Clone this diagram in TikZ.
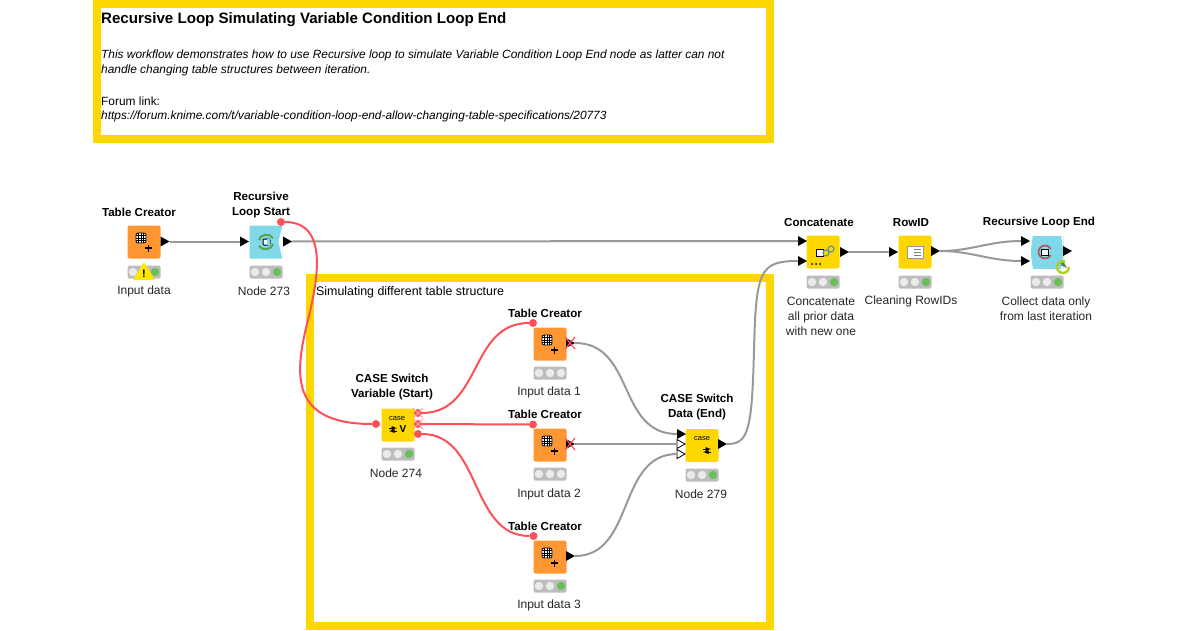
\documentclass[tikz,border=0pt]{standalone}
\usepackage{fontspec}
\setmainfont{Liberation Sans}
\usetikzlibrary{positioning, arrows, calc, shapes.geometric, shapes.misc}
\definecolor{kyellow}{HTML}{FFD700}
\definecolor{korange}{HTML}{FF9632}
\definecolor{kcyan}{HTML}{80D8E8}
\definecolor{kgrey}{HTML}{999999}
\definecolor{kred}{HTML}{FF4F58}
\definecolor{kgreen}{HTML}{6BBF59}
\begin{document}
\begin{tikzpicture}[x=1pt,y=-1pt]
		\tikzstyle{knode} = [rectangle, rounded corners=2, minimum size=33, inner sep=0, outer sep=0]
		\tikzstyle{creator} = [knode, fill=korange, path picture={
			\begin{scope}[shift={(path picture bounding box.center)}]
			\draw [line width=0.8, fill=white] (-8,-9) rectangle (2,1);
			\draw [line width=0.6] (-8,-6.5) -- (2,-6.5) (-8,-4) -- (2,-4) (-8,-1.5) -- (2,-1.5);
			\draw [line width=0.6] (-5.5,-9) -- (-5.5,1) (-3,-9) -- (-3,1) (-0.5,-9) -- (-0.5,1);
			\draw [line width=1.8] (1,6) -- (8,6) (4.5,2.5) -- (4.5,9.5);
			\end{scope}}]
		\tikzstyle{switchbox} = [knode, fill=kyellow]
		\tikzstyle{loopstart} = [knode, rounded corners=1, fill=kcyan, path picture={
			\begin{scope}[shift={(path picture bounding box.center)}]
			\fill [white] (17,-17) -- (16.5,-17) -- (12.5,0) -- (16.5,17) -- (17,17) -- cycle;
			\draw [line width=2, color=kgreen!85!black] (-7,-2) .. controls (-6,-8) and (4,-9) .. (7,-4);
			\draw [line width=2, color=kgreen!85!black] (7,2) .. controls (6,8) and (-4,9) .. (-7,4);
			\draw [line width=1, fill=white] (-3,-3) rectangle (4,3);
			\fill (1,-3.5) rectangle (4,3.5);
			\end{scope}}]
		\tikzstyle{loopend} = [knode, rounded corners=0, fill=kcyan, path picture={
			\begin{scope}[shift={(path picture bounding box.center)}]
			\fill [white] (-17,-18) -- (-14,-18) -- (-16.5,0) -- (-14,18) -- (-17,18) -- cycle;
			\fill [white] (17,-18) -- (14,-18) -- (16.5,0) -- (14,18) -- (17,18) -- cycle;
			\draw [line width=1.5, color=red!60!black!70] (-2,0) circle (6.5);
			\draw [line width=1, fill=white] (-6,-3) rectangle (1,3);
			\fill (2,-3) rectangle (8,3);
			\end{scope}}]
		\tikzstyle{status_off} = [rectangle, fill=black!26, rounded corners=1.5, minimum width=33, minimum height=13, inner sep=0, path picture={
			\begin{scope}[shift={(path picture bounding box.center)}]
			\fill [black!8] (-11,0) circle (4.2) (0,0) circle (4.2) (11,0) circle (4.2);
			\end{scope}}]
		\tikzstyle{status_on} = [status_off, path picture={
			\begin{scope}[shift={(path picture bounding box.center)}]
			\fill [black!8] (-11,0) circle (4.2) (0,0) circle (4.2);
			\fill [kgreen] (11,0) circle (4.2);
			\end{scope}}]
		\tikzstyle{port} = [isosceles triangle, isosceles triangle stretches, minimum width=10, minimum height=9, inner sep=0, outer sep=0, anchor=west, fill=black]
		\tikzstyle{port_open} = [port, fill=white, draw=black, line width=0.8, minimum width=9, minimum height=8]
		\tikzstyle{varport} = [shape=circle, minimum size=8, inner sep=0, outer sep=0, fill=kred]
		\tikzstyle{crossmark} = [cross out, draw=kred!55, line width=1, minimum width=10, minimum height=10, inner sep=0, outer sep=0]
		\tikzstyle{crossred} = [crossmark, draw=kred, line width=1.2, minimum height=12]
		\tikzstyle{title} = [font=\fontsize{11.6}{15}\selectfont\bfseries, align=center, inner sep=0, yshift=-0.8pt]
		\tikzstyle{caption} = [font=\fontsize{12}{15}\selectfont, text=black!85, align=center, inner sep=0, yshift=-0.8pt]
		\tikzstyle{note} = [font=\fontsize{11.9}{15}\selectfont, anchor=west, inner sep=0, yshift=-0.8pt]
		\tikzstyle{casetext} = [font=\fontsize{7.5}{8}\selectfont, inner sep=0]
		\tikzstyle{greyline} = [draw=kgrey, line width=2]
		\tikzstyle{redline} = [draw=kred, line width=2]
		\tikzstyle{noteframe} = [draw=kyellow, line width=8]
		\useasboundingbox (0,0) rectangle (1200,630);
		% annotations
		\draw [noteframe] (97,4) rectangle (770,139);
		\draw [noteframe] (310,278) rectangle (770,626);
		\node [note, font=\fontsize{15.1}{18}\selectfont\bfseries] (v_head) at (101,18.5) {Recursive Loop Simulating Variable Condition Loop End};
		\node [note] (v_text1) at (101,54.5) {\itshape This workflow demonstrates how to use Recursive loop to simulate Variable Condition Loop End node as latter can not};
		\node [note] (v_text2) at (101,69.5) {\itshape handle changing table structures between iteration.};
		\node [note] (v_text3) at (101,100.5) {Forum link:};
		\node [note] (v_text4) at (101,115.5) {\itshape https://forum.knime.com/t/variable-condition-loop-end-allow-changing-table-specifications/20773};
		\node [note, font=\fontsize{12.4}{15}\selectfont] (v_text5) at (316,291.5) {Simulating different table structure};
		% first row
		\node [creator] (v1) at (144,242) {};
		\node [port] (v1_out) at (160.5,241.5) {};
		\node [status_on] (v1_st) at (144,272) {};
		\fill [yellow!90!orange, rounded corners=1] (133,280) -- (144,262) -- (155,280) -- cycle;
		\node [font=\fontsize{11}{11}\selectfont\bfseries, inner sep=0] (v1_warn) at (144,274) {!};
		\node [title] (v1_title) at (139,211.5) {Table Creator};
		\node [caption] (v1_cap) at (144,290.5) {Input data};
		\node [loopstart] (v2) at (266,242) {};
		\node [port] (v2_in) at (240,241.5) {};
		\node [port] (v2_out) at (283,241.5) {};
		\node [varport] (v2_var) at (281,222) {};
		\node [status_on] (v2_st) at (266,272) {};
		\node [title] (v2_title) at (261,204) {Recursive\\Loop Start};
		\node [caption] (v2_cap) at (264,290.5) {Node 273};
		\node [switchbox] (v3) at (823,252) {};
		\node [port] (v3_in1) at (798,241) {};
		\node [port] (v3_in2) at (798,261) {};
		\node [port] (v3_out) at (840,252) {};
		\node [status_on] (v3_st) at (823,282) {};
		\node [title] (v3_title) at (819,221.5) {Concatenate};
		\node [caption] (v3_cap) at (821,315.5) {Concatenate\\all prior data\\with new one};
		\draw [line width=1, fill=white] (816,249) rectangle (823,256);
		\draw [line width=1.2, color=kcyan!70!black] (826,253) circle (3) (831,249) circle (3);
		\fill (812,264) circle (1) (816,264) circle (1) (820,264) circle (1);
		\node [switchbox] (v4) at (915,252) {};
		\node [port] (v4_in) at (889,252) {};
		\node [port] (v4_out) at (931,251) {};
		\node [status_on] (v4_st) at (915,282) {};
		\node [title] (v4_title) at (911,221.5) {RowID};
		\node [caption] (v4_cap) at (911,300.5) {Cleaning RowIDs};
		\draw [line width=0.8, draw=black!40, fill=white] (907,246) rectangle (923,258);
		\draw [line width=0.8, draw=black!50] (914,249) -- (921,249) (914,252) -- (921,252) (914,255) -- (921,255);
		\node [loopend] (v5) at (1047,252) {};
		\node [port] (v5_in1) at (1021,241) {};
		\node [port] (v5_in2) at (1021,261) {};
		\node [port] (v5_out) at (1063,251) {};
		\node [status_on] (v5_st) at (1047,282) {};
		\draw [line width=2.5, color=yellow!75!green!90!black] (1069,267) arc (0:290:6);
		\draw [line width=1.2, color=kgreen!70!black, -latex] (1061,262.5) -- (1067,268);
		\node [title] (v5_title) at (1039,221.5) {Recursive Loop End};
		\node [caption] (v5_cap) at (1046,308) {Collect data only\\from last iteration};
		% case start
		\node [switchbox] (v6) at (398,425) {};
		\node [casetext] (v6_case) at (397,419) {case};
		\draw [line width=0.9, -latex] (389,428) -- (397,428);
		\draw [line width=0.9, latex-] (389,431) -- (397,431);
		\node [font=\fontsize{10}{10}\selectfont\bfseries, inner sep=0] (v6_v) at (403,429.5) {V};
		\node [varport] (v6_in) at (376,424) {};
		\node [varport] (v6_out1) at (418,413) {};
		\node [varport] (v6_out2) at (418,424) {};
		\node [varport] (v6_out3) at (418,434) {};
		\node [crossmark] (v6_x1) at (418,413) {};
		\node [crossmark] (v6_x2) at (418,424) {};
		\node [status_on] (v6_st) at (398,454) {};
		\node [title] (v6_title) at (392,386.5) {CASE Switch\\Variable (Start)};
		\node [caption] (v6_cap) at (396,472.5) {Node 274};
		% three creators
		\node [creator] (v7) at (550,344) {};
		\node [port] (v7_out) at (566,343) {};
		\node [crossred] (v7_x) at (570,343) {};
		\node [varport] (v7_var) at (533,323) {};
		\node [status_off] (v7_st) at (550,373) {};
		\node [title] (v7_title) at (545,312.5) {Table Creator};
		\node [caption] (v7_cap) at (549,391.5) {Input data 1};
		\node [creator] (v8) at (550,445) {};
		\node [port] (v8_out) at (566,444) {};
		\node [crossred] (v8_x) at (570,444) {};
		\node [varport] (v8_var) at (533,424.5) {};
		\node [status_off] (v8_st) at (550,474) {};
		\node [title] (v8_title) at (545,413.5) {Table Creator};
		\node [caption] (v8_cap) at (549,493.5) {Input data 2};
		\node [creator] (v9) at (550,557) {};
		\node [port] (v9_out) at (566,556) {};
		\node [varport] (v9_var) at (533.5,536) {};
		\node [status_on] (v9_st) at (550,586) {};
		\node [title] (v9_title) at (545,525.5) {Table Creator};
		\node [caption] (v9_cap) at (549,604.5) {Input data 3};
		% case end
		\node [switchbox] (v10) at (702,445.5) {};
		\node [casetext] (v10_case) at (702,439) {case};
		\draw [line width=0.9, -latex] (703,449) -- (711,449);
		\draw [line width=0.9, latex-] (703,452) -- (711,452);
		\node [port] (v10_in1) at (677,434) {};
		\node [port_open] (v10_in2) at (677,444) {};
		\node [port_open] (v10_in3) at (677,454) {};
		\node [port] (v10_out) at (718,444) {};
		\node [status_on] (v10_st) at (702,475) {};
		\node [title] (v10_title) at (697,406.5) {CASE Switch\\Data (End)};
		\node [caption] (v10_cap) at (701,493.5) {Node 279};
		% connectors
		\coordinate (v_bend1) at (308,320);
		\coordinate (v_bend2) at (754,350);
		\draw [greyline] (v1_out) edge (v2_in);
		\draw [greyline] (v2_out) edge (v3_in1);
		\draw [greyline] (v3_out) edge (v4_in);
		\draw [greyline,out=0,in=180] (v4_out) edge (v5_in1);
		\draw [greyline,out=0,in=180] (v4_out) edge (v5_in2);
		\draw [greyline,out=0,in=180,distance=60] (v7_out) edge (v10_in1);
		\draw [greyline] (v8_out) edge (v10_in2);
		\draw [greyline,out=0,in=180,distance=60] (v9_out) edge (v10_in3);
		\draw [greyline] (v10_out) .. controls (748,444) and (752,432) .. (v_bend2) .. controls (756,270) and (760,261) .. (v3_in2);
		\draw [redline] (v2_var) .. controls (330,222) and (317,283) .. (v_bend1) .. controls (294,375) and (290,424) .. (v6_in);
		\draw [redline,out=0,in=180,distance=60] (v6_out1) edge (v7_var);
		\draw [redline] (v6_out2) edge (v8_var);
		\draw [redline,out=0,in=180,distance=60] (v6_out3) edge (v9_var);
\end{tikzpicture}
\end{document}
